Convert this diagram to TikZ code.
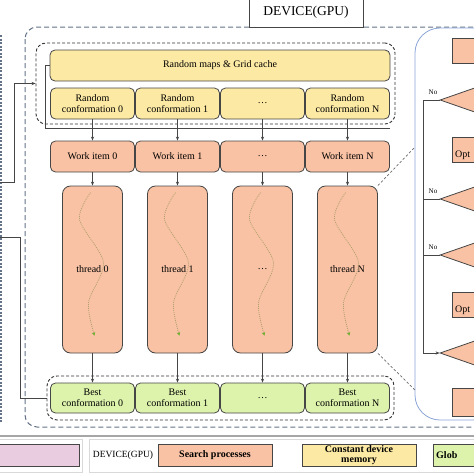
\documentclass[tikz,border=0pt]{standalone}
\usepackage{fontspec}
\setmainfont{Liberation Serif}
\usetikzlibrary{arrows.meta,shapes.geometric,positioning,fit}
\definecolor{ConstY} {RGB}{252,233,164}
\definecolor{SearchO}{RGB}{249,194,164}
\definecolor{GlobG}  {RGB}{221,243,172}
\definecolor{HostP}  {RGB}{234,204,225}
\definecolor{EdgeD}  {RGB}{70, 70, 70}
\definecolor{FrameB} {RGB}{100,115,135}
\definecolor{PanelB} {RGB}{140,165,215}
\definecolor{WaveT}  {RGB}{180,160,110}
\definecolor{WaveG}  {RGB}{110,175,50}

\begin{document}
\begin{tikzpicture}[x=1pt,y=-1pt,
    box/.style={draw=EdgeD,line width=0.8pt,rounded corners=5pt,inner sep=1pt,
      align=center,font=\fontsize{10}{11.5}\selectfont},
    constbox/.style={box,fill=ConstY,minimum width=84pt,minimum height=31pt},
    searchbox/.style={box,fill=SearchO,minimum width=84pt,minimum height=31pt},
    globbox/.style={box,fill=GlobG,minimum width=84pt,minimum height=30pt},
    threadbox/.style={box,fill=SearchO,rounded corners=8pt,minimum width=60pt,minimum height=167pt},
    optbox/.style={draw=EdgeD,line width=0.8pt,fill=SearchO,minimum width=80pt,inner sep=0pt},
    decision/.style={shape=diamond,draw=EdgeD,line width=0.8pt,fill=SearchO,
      minimum width=120pt,minimum height=42pt,inner sep=0pt},
    memframe/.style={draw=black!80,line width=0.9pt,dash pattern=on 3pt off 2pt,
      rounded corners=10pt,inner sep=0pt},
    legbox/.style={draw=EdgeD,line width=1pt,minimum height=22pt,minimum width=114pt,inner sep=0pt,
      align=center,font=\fontsize{10}{10.5}\selectfont\bfseries},
    flowarrow/.style={-{Stealth[length=4pt,width=3.2pt]},EdgeD,line width=0.7pt},
    flowline/.style={EdgeD,line width=0.7pt},
    zoomline/.style={EdgeD!80,line width=0.7pt,dash pattern=on 2.5pt off 2pt},
    wave/.style={WaveT,dash pattern=on 1pt off 1pt,line width=0.8pt,
      -{Stealth[length=3.5pt,width=3.5pt,color=WaveG]}},
    nolabel/.style={font=\fontsize{7}{8}\selectfont,inner sep=0pt}]
  \useasboundingbox (0,0) rectangle (474,474);
  \clip (0,0) rectangle (474,474);

  \draw[FrameB,line width=1pt,dash pattern=on 5pt off 3pt,rounded corners=12pt] (25,27) rectangle (495,427);
  \node[draw=EdgeD,line width=1pt,fill=white,minimum width=114pt,minimum height=30pt,
    font=\fontsize{13.5}{15}\selectfont] (dev) at (306,12) {DEVICE(GPU)};
  \draw[FrameB,line width=2.2pt,dash pattern=on 2pt off 1.5pt] (1,35) -- (1,422);

  \node[constbox,minimum width=340pt] (rm) at (220,65.5) {Random maps \& Grid cache};
  \foreach \i/\n in {0/0,1/1,3/N}{
    \node[constbox] (rc\i) at ({92.5+85*\i},103.5) {Random\\conformation \n};
    \node[searchbox] (wi\i) at ({92.5+85*\i},156.5) {Work item \n};
    \node[threadbox] (th\i) at ({92.5+85*\i},269.5) {thread \n};
    \node[globbox] (bc\i) at ({92.5+85*\i},398) {Best\\conformation \n};
  }
  \node[constbox] (rc2) at (262.5,103.5) {\dots};
  \node[searchbox] (wi2) at (262.5,156.5) {\dots};
  \node[threadbox] (th2) at (262.5,269.5) {\dots};
  \node[globbox] (bc2) at (262.5,398) {\dots};

  \node[memframe,fit={(36,43) (395,124)}] (cmem) {};
  \node[memframe,fit={(47,376) (394,420)}] (gmem) {};
  \coordinate (brend) at (390,128);
  \draw[flowline,line width=0.6pt] (rm.west) -- ++(-4,0) |- (brend);

  \foreach \i in {0,...,3}{
    \draw[flowarrow] (rc\i.south) -- (wi\i.north);
    \draw[flowarrow] (wi\i.south) -- (th\i.north);
    \draw[flowarrow] (th\i.south) -- (bc\i.north);
    \draw[wave] plot[smooth] coordinates {([shift={(-2,7)}]th\i.north) ([shift={(-13,34)}]th\i.north)
      ([shift={(11,77)}]th\i.north) ([shift={(-4,117)}]th\i.north) ([shift={(2,150)}]th\i.north)};
  }

  \coordinate (hostA) at (0,182);
  \coordinate (hostB) at (0,237);
  \draw[flowarrow] (hostA) -- ++(14,0) |- (cmem.west);
  \draw[flowline] (hostB) -- ++(20,0) |- (gmem.west);

  % optimisation panel
  \draw[PanelB,line width=0.8pt,rounded corners=25pt] (415,28) rectangle (540,420);
  \coordinate (pnA) at (415,147);
  \coordinate (pnB) at (415,390);
  \draw[zoomline] (th3.north east) -- (pnA);
  \draw[zoomline] (th3.south east) -- (pnB);

  \node[optbox,minimum height=25pt] (opA) at (492,50.5) {};
  \node[optbox,minimum height=25pt] (opB) at (492,149.5) {};
  \node[optbox,minimum height=25pt] (opC) at (492,304.5) {};
  \node[optbox,minimum height=28pt] (opD) at (492,402) {};
  \node[anchor=west,font=\fontsize{10}{11}\selectfont,inner sep=0pt] (opBt) at (455,155) {Opt};
  \node[anchor=west,font=\fontsize{10}{11}\selectfont,inner sep=0pt] (opCt) at (455,310) {Opt};

  \node[decision] (dc1) at (500,100) {};
  \node[decision] (dc2) at (500,199) {};
  \node[decision] (dc3) at (500,255) {};
  \node[decision] (dc4) at (500,353) {};
  \draw[flowarrow] (dc1.west) -- ++(-16,0) coordinate (jn) |- (dc4.west);
  \draw[flowline] (dc2.west) -- (dc2.west -| jn);
  \draw[flowline] (dc3.west) -- (dc3.west -| jn);
  \node[nolabel] (no1) at (433,92) {No};
  \node[nolabel] (no2) at (433,191) {No};
  \node[nolabel] (no3) at (433,247) {No};

  % legend
  \draw[gray!70,line width=1.5pt] (0,436) -- (474,436);
  \draw[gray!30,line width=1pt] (-5,439) rectangle (82,472);
  \draw[gray!30,line width=1pt] (89,439) rectangle (490,472);
  \node[legbox,fill=HostP,minimum width=83pt] (lgHost) at (37.5,455) {};
  \node[font=\fontsize{9.5}{11}\selectfont] (lgDev) at (123,455) {DEVICE(GPU)};
  \node[legbox,fill=SearchO] (lgSearch) at (215,455) {Search processes};
  \node[legbox,fill=ConstY] (lgConst) at (359,455) {Constant device\\memory};
  \node[legbox,fill=GlobG,minimum width=80pt] (lgGlob) at (473,455) {};
  \node[anchor=west,font=\fontsize{10}{11}\selectfont\bfseries,inner sep=0pt] (lgGlobt) at (436,455) {Glob};
\end{tikzpicture}
\end{document}
